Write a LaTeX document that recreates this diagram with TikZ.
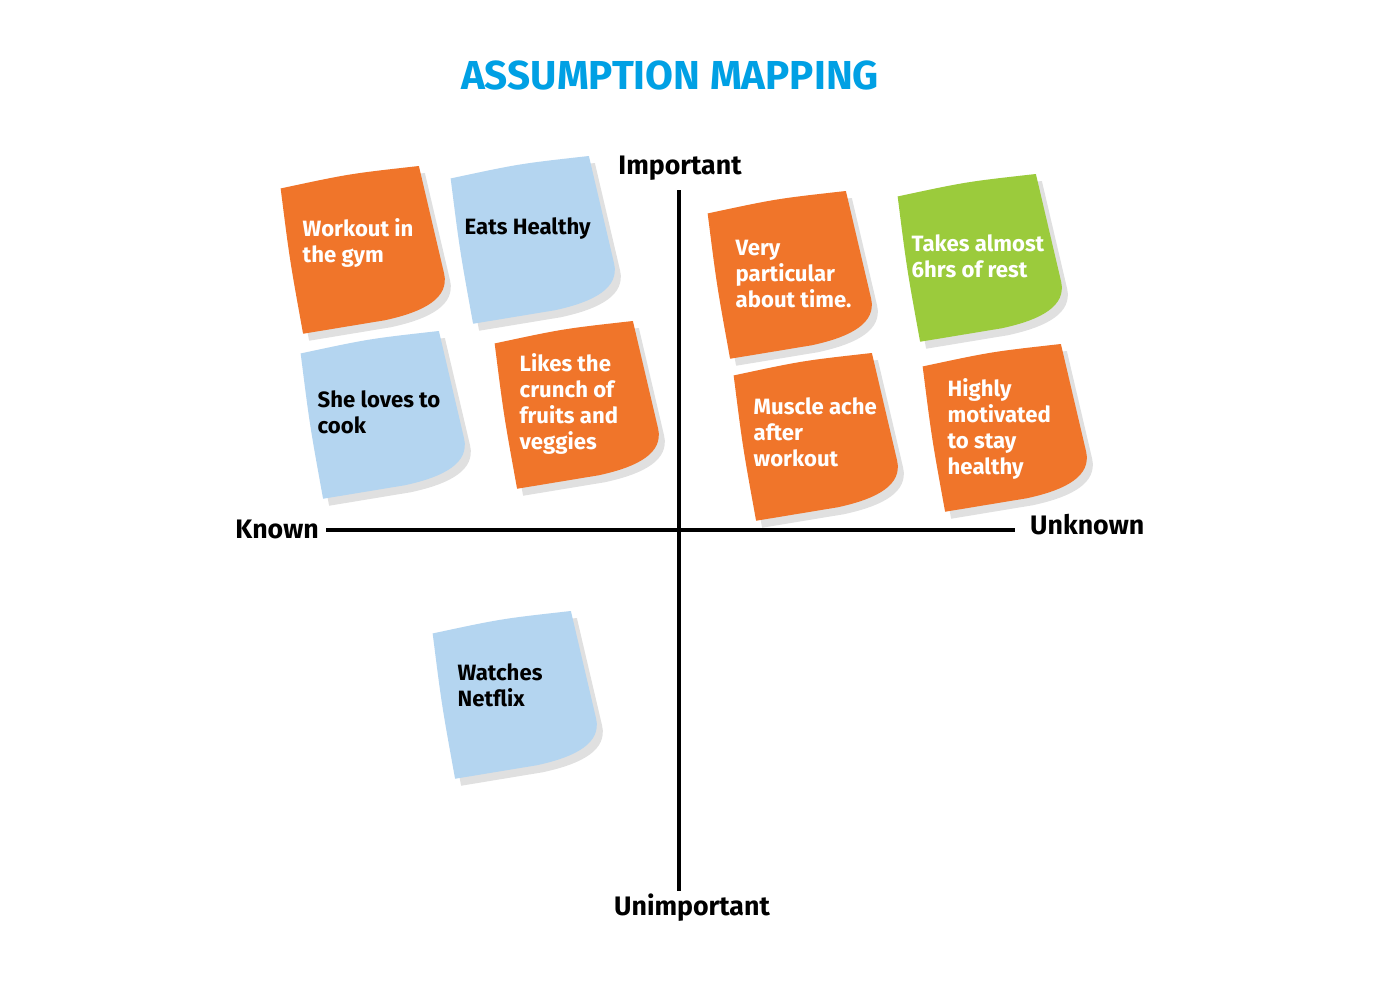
\documentclass[tikz,border=0pt]{standalone}
\usepackage{fontspec}
\setmainfont{Fira Sans}
\definecolor{noteorange}{HTML}{F0752A}
\definecolor{noteblue}{HTML}{B4D5F0}
\definecolor{notegreen}{HTML}{9BCB3C}
\definecolor{titleblue}{HTML}{00A0E4}
\tikzstyle{notetext}=[anchor=west,align=left,inner sep=0pt,font=\bfseries\fontsize{6.3}{7.4}\selectfont]
\tikzstyle{axislabel}=[inner sep=1pt,font=\bfseries\fontsize{7.6}{9}\selectfont]
\tikzstyle{axis}=[line width=1.1pt,black]
\def\notepath{(-70,72) .. controls (0,77) .. (70,75) -- (80,-35) .. controls (82,-60) and (55,-70) .. (15,-73) -- (-68,-75) .. controls (-71,0) .. cycle}
\newcommand{\sticky}[2]{%
  \fill[black,opacity=0.12,shift={#1},shift={(6,-7)},rotate=8] \notepath;
  \fill[#2,shift={#1},rotate=8] \notepath;}
\begin{document}
\begin{tikzpicture}[x=0.01cm,y=0.01cm]
        \useasboundingbox[fill=white] (0,0) rectangle (1400,-990);
        \node[font=\bfseries\fontsize{11.5}{13}\selectfont,text=titleblue] (title) at (670,-75) {ASSUMPTION MAPPING};
        %
        \sticky{(360,-250)}{noteorange}
        \sticky{(530,-240)}{noteblue}
        \sticky{(380,-415)}{noteblue}
        \sticky{(574,-405)}{noteorange}
        \sticky{(787,-275)}{noteorange}
        \sticky{(977,-258)}{notegreen}
        \sticky{(813,-437)}{noteorange}
        \sticky{(1002,-428)}{noteorange}
        \sticky{(512,-695)}{noteblue}
        %
        \node[notetext,text=white] (gym) at (302,-243) {Workout in\\the gym};
        \node[notetext] (healthy) at (464,-229) {Eats Healthy};
        \node[notetext] (cook) at (317,-412) {She loves to\\cook};
        \node[notetext,text=white] (crunch) at (519,-404) {Likes the\\crunch of\\fruits and\\veggies};
        \node[notetext,text=white] (time) at (735,-274) {Very\\particular\\about time.};
        \node[notetext,text=white] (rest) at (911,-256) {Takes almost\\6hrs of rest};
        \node[notetext,text=white] (ache) at (753,-432) {Muscle ache\\after\\workout};
        \node[notetext,text=white] (motivated) at (947,-429) {Highly\\motivated\\to stay\\healthy};
        \node[notetext] (netflix) at (457,-685) {Watches\\Netflix};
        %
        \node[axislabel] (important) at (680,-168) {Important};
        \node[axislabel] (unimportant) at (692,-908) {Unimportant};
        \node[axislabel,anchor=east] (known) at (323,-529) {Known};
        \node[axislabel,anchor=west] (unknown) at (1026,-525) {Unknown};
        \coordinate (top) at (679,-190);
        \coordinate (bottom) at (679,-891);
        \coordinate (left) at (326,-530);
        \coordinate (right) at (1015,-530);
        \draw[axis] (top) -- (bottom);
        \draw[axis] (left) -- (right);
\end{tikzpicture}
\end{document}
